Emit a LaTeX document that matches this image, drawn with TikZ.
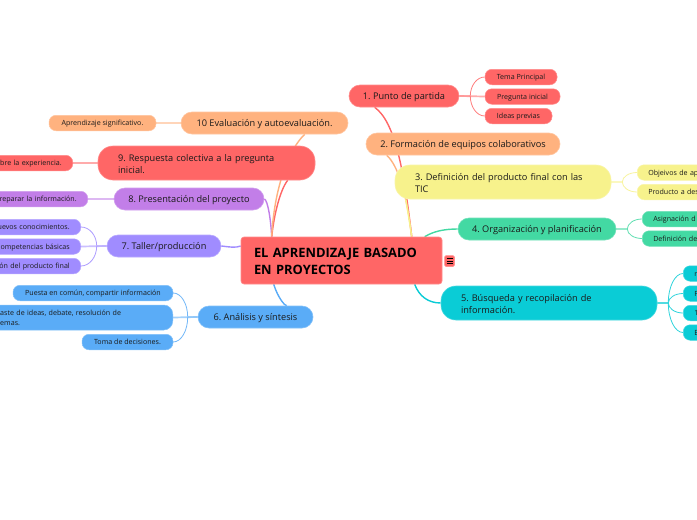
\documentclass[tikz,border=0pt]{standalone}
\usepackage{fontspec}
\setmainfont{Open Sans}
\usetikzlibrary{backgrounds,calc}
\definecolor{ink}{HTML}{1A1A1A}
\definecolor{cred}{HTML}{FF6666}
\definecolor{corange}{HTML}{FFB27F}
\definecolor{cyellow}{HTML}{F7F28C}
\definecolor{cgreen}{HTML}{43D9A3}
\definecolor{cteal}{HTML}{0ACCD6}
\definecolor{cblue}{HTML}{5AACF7}
\definecolor{clilac}{HTML}{A08CFF}
\definecolor{cviolet}{HTML}{C27EE8}
\tikzset{
  mainbox/.style={fill=#1,draw=#1!75!white,line width=.6pt,rounded corners=11pt,minimum height=22pt,inner sep=0pt,text=ink,font=\fontsize{9.2}{12.4}\selectfont\frenchspacing,execute at begin node={\rule[-2.3pt]{0pt}{11.3pt}}},
  tallbox/.style={mainbox=#1,rounded corners=15pt,minimum height=34pt,align=left},
  subbox/.style={fill=#1,draw=#1!75!white,line width=.5pt,rounded corners=7pt,minimum height=15.5pt,inner sep=0pt,text=ink,font=\fontsize{7.1}{10}\selectfont\frenchspacing,execute at begin node={\rule[-1.8pt]{0pt}{8.6pt}}},
  subright/.style={subbox=#1,anchor=west,text width=90pt,inner xsep=11pt,align=left},
  subleft/.style={subbox=#1,anchor=east,text width=90pt,inner xsep=11pt,align=right},
  rootbox/.style={fill=cred,draw=cred!75!white,line width=.6pt,rounded corners=3pt,inner sep=0pt,text=black,font=\fontsize{12.9}{17}\selectfont\bfseries,align=left,execute at begin node={\rule{0pt}{12pt}}},
  branch/.style={draw=#1,line width=1.4pt},
  twig/.style={draw=#1!85!white,line width=.8pt},
  stem/.style={draw=#1!55!white,line width=1.7pt}
}
\newcommand\forkR[3]{\coordinate (f) at ([xshift=11pt]#1.east);\coordinate (k) at (f |- #2.west);
  \draw[twig=#3] (#1.east) -- (f) .. controls ($(f)!.55!(k)$) and ($(#2.west)!.55!(k)$) .. (#2.west);}
\newcommand\forkL[3]{\coordinate (f) at ([xshift=-10pt]#1.west);\coordinate (k) at (f |- #2.east);
  \draw[twig=#3] (#1.west) -- (f) .. controls ($(f)!.55!(k)$) and ($(#2.east)!.55!(k)$) .. (#2.east);}
\begin{document}
\begin{tikzpicture}[x=1pt,y=-1pt]
\useasboundingbox (0,0) rectangle (697,520);
\clip (0,0) rectangle (697,520);

\node[rootbox,minimum width=201pt,minimum height=47pt,text width=175pt] (root) at (341.5,260.5) {EL APRENDIZAJE BASADO\\EN PROYECTOS};
\node[fill=cred,draw=cred!75!white,line width=.5pt,rounded corners=1.5pt,minimum width=10pt,minimum height=11pt,inner sep=0pt] (icon) at (449.5,261) {};

\node[mainbox=cred,minimum width=110pt] (n1) at (404,96) {1. Punto de partida};
\node[subbox=cred,minimum width=72pt] (n1a) at (521,77) {Tema Principal};
\node[subbox=cred,minimum width=75pt] (n1b) at (522.5,96.5) {Pregunta inicial};
\node[subbox=cred,minimum width=67pt] (n1c) at (518.5,116) {Ideas previas};

\node[mainbox=corange,minimum width=194pt] (n2) at (463,144) {2. Formación de equipos colaborativos};

\node[tallbox=cyellow,minimum width=216pt,text width=176pt] (n3) at (503,182) {3. Definición del producto final con las\\TIC};
\node[subright=cyellow] (n3a) at (637,172.5) {Objeivos de ap};
\node[subright=cyellow] (n3b) at (637,192) {Producto a des};

\node[mainbox=cgreen,minimum width=158pt] (n4) at (537,229) {4. Organización y planificación};
\node[subright=cgreen] (n4a) at (642,219) {Asignación d};
\node[subright=cgreen] (n4b) at (642,238.5) {Definición de};

\node[tallbox=cteal,minimum width=216pt,text width=176pt] (n5) at (549,303) {5. Búsqueda y recopilación de\\información.};
\node[subright=cteal] (n5a) at (683,273.5) {r};
\node[subright=cteal] (n5b) at (683,293.5) {P};
\node[subright=cteal] (n5c) at (683,313) {1};
\node[subright=cteal] (n5d) at (683,332.5) {E};

\node[mainbox=cblue,minimum width=115pt] (n6) at (255.5,317) {6. Análisis y síntesis};
\node[subbox=cblue,minimum width=160pt] (n6a) at (93,293) {Puesta en común, compartir información};
\node[subbox=cblue,anchor=east,minimum height=25pt,rounded corners=9pt,text width=182pt,inner xsep=0pt,align=left] (n6b) at (173,317.5) {\hspace*{9.5pt}aste de ideas, debate, resolución de\\\hspace*{9.5pt}emas.};
\node[subbox=cblue,minimum width=91pt] (n6c) at (127.5,342) {Toma de decisiones.};

\node[mainbox=clilac,minimum width=114pt] (n7) at (164,246) {7. Taller/producción};
\node[subleft=clilac] (n7a) at (81,227) {uevos conocimientos.};
\node[subleft=clilac] (n7b) at (81,246.5) {ompetencias básicas};
\node[subleft=clilac] (n7c) at (81,266) {ón del producto final};

\node[mainbox=cviolet,minimum width=150pt] (n8) at (189,199) {8. Presentación del proyecto};
\node[subleft=cviolet] (n8a) at (88,199) {reparar la información.};

\node[tallbox=cred,minimum width=217pt,text width=177pt] (n9) at (206.5,163) {9. Respuesta colectiva a la pregunta\\inicial.};
\node[subleft=cred] (n9a) at (73,163) {bre la experiencia.};

\node[mainbox=corange,minimum width=167pt] (n10) at (264.5,123) {10 Evaluación y autoevaluación.};
\node[subbox=corange,minimum width=107pt] (n10a) at (102.5,123) {Aprendizaje significativo.};

\draw[black,line width=.7pt] ([xshift=-3pt,yshift=2.2pt]icon.center) -- ([xshift=3pt,yshift=2.2pt]icon.center)
  ([xshift=-3pt]icon.center) -- ([xshift=3pt]icon.center)
  ([xshift=-3pt,yshift=-2.2pt]icon.center) -- ([xshift=3pt,yshift=-2.2pt]icon.center);

\begin{scope}[on background layer]
\fill[white] (0,0) rectangle (697,520);
% right side main branches
\draw[branch=cred] ([xshift=26pt]n1.south west) .. controls (395,122) and (404,170) .. ([xshift=171pt]root.north west);
\draw[branch=corange] ([xshift=21pt]n2.south west) .. controls (398,165) and (407,195) .. ([xshift=171pt]root.north west);
\draw[branch=cyellow] ([xshift=11pt]n3.south west) .. controls (408,212) and (410,225) .. ([xshift=171pt]root.north west);
\draw[branch=cgreen] (n4.west) .. controls (445,229) and (434,231) .. ([xshift=184pt]root.north west);
\draw[branch=cteal] (n5.west) .. controls (428,303) and (419,296) .. ([xshift=174pt]root.south west);
% left side main branches
\draw[branch=cblue] ([xshift=89pt]n6.north west) .. controls (285,306) and (278,298) .. ([xshift=33pt]root.south west);
\draw[branch=clilac] (n7.east) .. controls (230,247) and (236,248) .. (root.west |- n7.east);
\draw[branch=cviolet] (n8.east) .. controls (268,200) and (271,222) .. ([xshift=31pt]root.north west);
\draw[branch=cred] ([xshift=190pt]n9.south west) .. controls (280,190) and (274,215) .. ([xshift=31pt]root.north west);
\draw[branch=corange] ([xshift=124pt]n10.south west) .. controls (288,150) and (274,190) .. ([xshift=31pt]root.north west);
% sub branches
\forkR{n1}{n1a}{cred}
\draw[stem=cred] (n1.east) -- (n1b.west);
\forkR{n1}{n1c}{cred}
\forkR{n3}{n3a}{cyellow}
\forkR{n3}{n3b}{cyellow}
\draw[stem=cyellow] (n3.east) -- ([xshift=11pt]n3.east);
\forkR{n4}{n4a}{cgreen}
\forkR{n4}{n4b}{cgreen}
\draw[stem=cgreen] (n4.east) -- ([xshift=11pt]n4.east);
\forkR{n5}{n5a}{cteal}
\forkR{n5}{n5b}{cteal}
\forkR{n5}{n5c}{cteal}
\forkR{n5}{n5d}{cteal}
\forkL{n6}{n6a}{cblue}
\draw[stem=cblue] (n6.west) -- (n6b.east);
\forkL{n6}{n6c}{cblue}
\forkL{n7}{n7a}{clilac}
\draw[stem=clilac] (n7.west) -- (n7b.east);
\forkL{n7}{n7c}{clilac}
\draw[stem=cviolet] (n8.west) -- (n8a.east);
\draw[stem=cred] (n9.west) -- (n9a.east);
\draw[stem=corange] (n10.west) -- (n10a.east);
\end{scope}
\end{tikzpicture}
\end{document}
